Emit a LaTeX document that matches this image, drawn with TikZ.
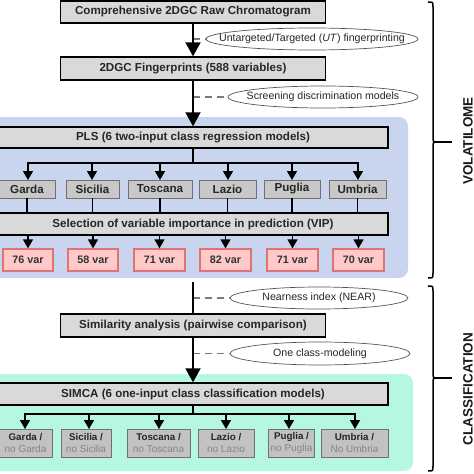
\documentclass[tikz,border=0pt]{standalone}
\usepackage{fontspec}
\setmainfont{Liberation Sans}
\usetikzlibrary{arrows.meta,shapes.geometric}
\definecolor{boxfill}{HTML}{D9D9D9}
\definecolor{clsfill}{HTML}{C8C8C8}
\definecolor{clsline}{HTML}{707070}
\definecolor{simfill}{HTML}{C2C2C2}
\definecolor{bluebg}{HTML}{C9D4EE}
\definecolor{cyanbg}{HTML}{B6F7E2}
\definecolor{varfill}{HTML}{FFC9C9}
\definecolor{varline}{HTML}{E07474}
\definecolor{dashgray}{HTML}{7A7A7A}
\definecolor{elline}{HTML}{555555}
\definecolor{txtgray}{HTML}{858585}
\newcommand{\zw}[1]{\makebox[0pt][c]{#1}}
\newcommand{\simtxt}[2]{#1\\{\mdseries\fontsize{10}{12.5}\selectfont\textcolor{txtgray}{#2}}}
\tikzset{
  mainbox/.style={draw=black,line width=1.4pt,fill=boxfill,inner sep=0pt,minimum height=22pt,font=\fontsize{11.6}{13}\selectfont\bfseries,text=black!85},
  clsbox/.style={draw=clsline,line width=0.9pt,fill=clsfill,inner sep=0pt,minimum height=18pt,font=\fontsize{11.6}{13}\selectfont\bfseries,text=black!85},
  varbox/.style={draw=varline,line width=1.3pt,fill=varfill,inner sep=0pt,minimum width=50pt,minimum height=22pt,font=\fontsize{10.8}{12}\selectfont\bfseries,text=black!80},
  simbox/.style={draw=clsline,line width=0.9pt,fill=simfill,inner sep=0pt,minimum height=28pt,align=center,font=\fontsize{9.8}{12.5}\selectfont\bfseries,text=black!85},
  oval/.style={ellipse,draw=elline,line width=0.7pt,fill=white,inner sep=0pt,minimum height=22pt,font=\fontsize{10.6}{12}\selectfont,text=black!85},
  bgpanel/.style={rounded corners=9pt,inner sep=0pt},
  mainarrow/.style={line width=2pt,-{Triangle[length=14pt,width=15pt]}},
  mainline/.style={line width=2pt},
  smallarrow/.style={line width=1.5pt,-{Triangle[length=9pt,width=10pt]}},
  smallline/.style={line width=1.5pt},
  dashline/.style={draw=dashgray,line width=1.4pt,dash pattern=on 7pt off 5pt},
  bracepath/.style={line width=1.5pt},
  sidelabel/.style={rotate=90,font=\fontsize{13.5}{15}\selectfont\bfseries,text=black!90}
}
\begin{document}
\begin{tikzpicture}[x=1pt,y=-1pt]
\useasboundingbox (0,0) rectangle (474,474);
% background panels
\node[bgpanel,fill=bluebg,minimum width=428pt,minimum height=161pt] (bluebg) at (194,197.5) {};
\node[bgpanel,fill=cyanbg,minimum width=433pt,minimum height=97pt] (cyanbg) at (196.5,422.5) {};
% main boxes
\node[mainbox,minimum width=265pt] (raw) at (193,12) {Comprehensive 2DGC Raw Chromatogram};
\node[mainbox,minimum width=265pt,minimum height=23pt] (fp) at (193,68.5) {2DGC Fingerprints (588 variables)};
\node[mainbox,minimum width=390pt,minimum height=21pt] (pls) at (193,137.5) {PLS (6 two-input class regression models)};
\node[mainbox,minimum width=390pt] (vip) at (193,224) {Selection of variable importance in prediction (VIP)};
\node[mainbox,minimum width=265pt,minimum height=23pt] (sim) at (193,325.5) {Similarity analysis (pairwise comparison)};
\node[mainbox,minimum width=390pt] (simca) at (193,394) {SIMCA (6 one-input class classification models)};
% ovals
\node[oval,minimum width=212pt] (e1) at (312,39) {\zw{Untargeted/Targeted (\textit{UT}) fingerprinting}};
\node[oval,minimum width=190pt] (e2) at (323,97) {\zw{Screening discrimination models}};
\node[oval,minimum width=178pt] (e3) at (319,298) {\zw{Nearness index (NEAR)}};
\node[oval,minimum width=180pt,minimum height=23pt] (e4) at (320,353.5) {\zw{One class-modeling}};
% class boxes (PLS)
\node[clsbox,minimum width=56pt] (c1) at (27,189) {Garda};
\node[clsbox,minimum width=53pt] (c2) at (92.5,189) {Sicilia};
\node[clsbox,minimum width=64pt] (c3) at (160,189) {Toscana};
\node[clsbox,minimum width=57pt] (c4) at (227.5,189) {Lazio};
\node[clsbox,minimum width=56pt] (c5) at (292,189) {Puglia};
\node[clsbox,minimum width=57pt] (c6) at (357.5,189) {Umbria};
% var boxes
\node[varbox] (v1) at (28,260) {76 var};
\node[varbox] (v2) at (93,260) {58 var};
\node[varbox,minimum width=51pt] (v3) at (159.5,260) {71 var};
\node[varbox,minimum width=51pt] (v4) at (225.5,260) {82 var};
\node[varbox,minimum width=51pt] (v5) at (292.5,260) {71 var};
\node[varbox,minimum width=51pt] (v6) at (358.5,260) {70 var};
% SIMCA class boxes
\node[simbox,minimum width=53pt] (s1) at (25.5,443) {\simtxt{Garda /}{no Garda}};
\node[simbox,minimum width=50pt] (s2) at (86,443) {\simtxt{Sicilia /}{no Sicilia}};
\node[simbox,minimum width=63pt] (s3) at (158.5,443) {\simtxt{Toscana /}{no Toscana}};
\node[simbox,minimum width=56pt] (s4) at (226,443) {\simtxt{Lazio /}{no Lazio}};
\node[simbox,minimum width=46pt] (s5) at (291.5,443) {\simtxt{Puglia /}{no Puglia}};
\node[simbox,minimum width=67pt] (s6) at (354.5,443) {\simtxt{Umbria /}{No Umbria}};
% coordinates on main line
\coordinate (d1) at (193,39);
\coordinate (d2) at (193,97);
\coordinate (d3) at (193,298);
\coordinate (d4) at (193,353.5);
\coordinate (b1) at (193,163);
\coordinate (b2) at (193,414);
\coordinate (top3) at (193,282);
% dashed connectors
\draw[dashline] (d1) -- (e1.west);
\draw[dashline] (d2) -- (e2.west);
\draw[dashline] (d3) -- (e3.west);
\draw[dashline] (d4) -- (e4.west);
% main arrows
\draw[mainarrow] (raw.south) -- (fp.north);
\draw[mainarrow] (fp.south) -- (pls.north);
\draw[mainline] (top3) -- (sim.north);
\draw[mainarrow] (sim.south) -- (simca.north);
% PLS branches
\draw[smallline] (pls.south) -- (b1);
\foreach \c/\xx in {c1/28,c2/92,c3/160,c4/228,c5/292,c6/358}{
  \draw[smallarrow] (b1) -| (\xx,180);
}
\foreach \c in {c1,c2,c3,c4,c5,c6}{
  \draw[smallline] (\c.south) -- (\c.south |- vip.north);
}
\foreach \v in {v1,v2,v3,v4,v5,v6}{
  \draw[smallarrow] (\v.north |- vip.south) -- (\v.north);
}
% SIMCA branches
\draw[smallline] (simca.south) -- (b2);
\foreach \s/\xx in {s1/25,s2/89,s3/159,s4/226,s5/289,s6/355}{
  \draw[smallarrow] (b2) -| (\xx,429);
}
% braces
\draw[bracepath] (428,2) .. controls (433,2) .. (433,7) -- (433,137) .. controls (433,142) .. (438,142)
  .. controls (433,142) .. (433,147) -- (433,273) .. controls (433,278) .. (428,278);
\draw[bracepath] (438,142) -- (452,142);
\draw[bracepath] (428,286) .. controls (433,286) .. (433,291) -- (433,373) .. controls (433,378) .. (438,378)
  .. controls (433,378) .. (433,383) -- (433,466) .. controls (433,471) .. (428,471);
\draw[bracepath] (438,378) -- (452,378);
\node[sidelabel] (lab1) at (468,141) {VOLATILOME};
\node[sidelabel] (lab2) at (468,389) {CLASSIFICATION};
\end{tikzpicture}
\end{document}
